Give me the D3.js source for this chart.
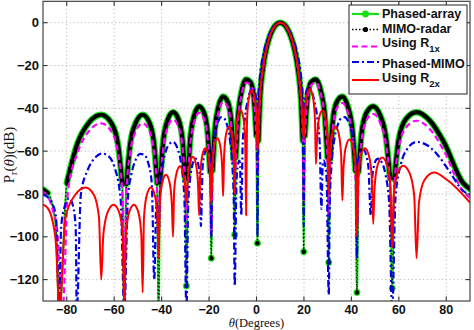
<!DOCTYPE html>
<html><head><meta charset="utf-8">
<script src="https://cdn.jsdelivr.net/npm/d3@7"></script>
<style>body{margin:0;background:#fff}svg{display:block}</style>
</head><body>
<svg id="c" width="474" height="330"></svg>
<script>
// ---------- data (θ in degrees, level in dB) ----------
const thetaTicks = [-80,-60,-40,-20,0,20,40,60,80];
const dbTicks = [-120,-100,-80,-60,-40,-20,0];

const phasedArray = [
[-90,-77.9],[-88,-79.5],[-86,-85.4],[-84.5,-96.8],[-83.1,-135],
[-79.96,-74.8],[-75.5,-56.4],[-70.6,-46.6],[-65.46,-43.0],[-61.2,-46.8],[-58.36,-56.9],[-56.58,-75.4],[-55.73,-135],
[-54.89,-75.4],[-53.27,-56.85],[-50.93,-46.8],[-47.99,-43.0],[-45.21,-46.5],[-43.21,-56.4],[-41.92,-74.8],[-41.28,-135],
[-40.65,-74.7],[-39.4,-56.0],[-37.57,-45.8],[-35.2,-41.8],[-32.9,-45.1],[-31.2,-54.7],[-30.09,-73.0],[-29.55,-123],
[-28.99,-72.7],[-27.91,-54.0],[-26.3,-43.5],[-24.19,-39.1],[-22.11,-42.1],[-20.57,-51.5],[-19.55,-69.6],[-19.05,-110],
[-18.55,-69.1],[-17.54,-50.1],[-16.05,-39.35],[-14.07,-34.5],[-12.1,-37.0],[-10.64,-46.0],[-9.68,-63.7],[-9.19,-99],
[-8.71,-62.9],[-7.74,-43.6],[-6.3,-32.2],[-4.38,-26.5],[-2.47,-27.8],[-1.04,-35.75],[-0.08,-52.7],[0.40,-103],
[0.78,-55.1],[1.35,-38.3],[2.79,-20.8],[4.22,-11.81],[5.66,-6.18],[7.10,-2.63],[8.55,-0.64],[10,0],[11.46,-0.64],[12.92,-2.63],[14.39,-6.18],[15.88,-11.81],[17.37,-20.8],[18.88,-38.3],[19.49,-55.1],[19.90,-107],
[20.4,-52.7],[21.43,-35.75],[22.97,-27.8],[25.06,-26.5],[27.19,-32.2],[28.81,-43.6],[29.91,-62.9],[30.46,-112],
[31.02,-63.7],[32.14,-46.0],[33.84,-37.0],[36.18,-34.5],[38.58,-39.35],[40.44,-50.1],[41.71,-69.1],[42.35,-126],
[42.99,-69.6],[44.32,-51.5],[46.35,-42.1],[49.19,-39.1],[52.21,-43.5],[54.63,-54.0],[56.3,-72.7],[57.18,-124],
[58.06,-73.0],[59.92,-54.7],[62.91,-45.1],[67.45,-41.8],[73.12,-45.8],[79.09,-56.0],[86.97,-74.7],[90,-77.7]
];

// MIMO-radar curve coincides with the phased-array curve in the figure
const mimoRadar = [
[-90,-77.9],[-88,-79.5],[-86,-85.4],[-84.5,-96.8],[-83.1,-135],
[-79.96,-74.8],[-75.5,-56.4],[-70.6,-46.6],[-65.46,-43.0],[-61.2,-46.8],[-58.36,-56.9],[-56.58,-75.4],[-55.73,-135],
[-54.89,-75.4],[-53.27,-56.85],[-50.93,-46.8],[-47.99,-43.0],[-45.21,-46.5],[-43.21,-56.4],[-41.92,-74.8],[-41.28,-135],
[-40.65,-74.7],[-39.4,-56.0],[-37.57,-45.8],[-35.2,-41.8],[-32.9,-45.1],[-31.2,-54.7],[-30.09,-73.0],[-29.55,-123],
[-28.99,-72.7],[-27.91,-54.0],[-26.3,-43.5],[-24.19,-39.1],[-22.11,-42.1],[-20.57,-51.5],[-19.55,-69.6],[-19.05,-110],
[-18.55,-69.1],[-17.54,-50.1],[-16.05,-39.35],[-14.07,-34.5],[-12.1,-37.0],[-10.64,-46.0],[-9.68,-63.7],[-9.19,-99],
[-8.71,-62.9],[-7.74,-43.6],[-6.3,-32.2],[-4.38,-26.5],[-2.47,-27.8],[-1.04,-35.75],[-0.08,-52.7],[0.40,-103],
[0.78,-55.1],[1.35,-38.3],[2.79,-20.8],[4.22,-11.81],[5.66,-6.18],[7.10,-2.63],[8.55,-0.64],[10,0],[11.46,-0.64],[12.92,-2.63],[14.39,-6.18],[15.88,-11.81],[17.37,-20.8],[18.88,-38.3],[19.49,-55.1],[19.90,-107],
[20.4,-52.7],[21.43,-35.75],[22.97,-27.8],[25.06,-26.5],[27.19,-32.2],[28.81,-43.6],[29.91,-62.9],[30.46,-112],
[31.02,-63.7],[32.14,-46.0],[33.84,-37.0],[36.18,-34.5],[38.58,-39.35],[40.44,-50.1],[41.71,-69.1],[42.35,-126],
[42.99,-69.6],[44.32,-51.5],[46.35,-42.1],[49.19,-39.1],[52.21,-43.5],[54.63,-54.0],[56.3,-72.7],[57.18,-124],
[58.06,-73.0],[59.92,-54.7],[62.91,-45.1],[67.45,-41.8],[73.12,-45.8],[79.09,-56.0],[86.97,-74.7],[90,-77.7]
];

const usingR1x = [
[-90,-79],[-88,-81],[-86,-87],[-84,-97],[-81.8,-135],
[-79.5,-79],[-75.5,-61],[-70.6,-50.6],[-65.46,-47],[-61.2,-50.8],[-58.36,-61],[-56.58,-79],[-55.73,-115],
[-54.89,-79.4],[-53.27,-60.9],[-50.93,-50.8],[-47.99,-47],[-45.21,-50.5],[-43.21,-60.4],[-41.92,-78.8],[-41.28,-100],
[-40.65,-78.2],[-39.4,-59.5],[-37.57,-49.3],[-35.2,-45.3],[-32.9,-48.6],[-31.2,-58.2],[-30.09,-76.5],[-29.55,-95],
[-28.99,-75.7],[-27.91,-57],[-26.3,-46.5],[-24.19,-42.1],[-22.11,-45.1],[-20.57,-54.5],[-19.55,-72.6],[-19.05,-99],
[-18.55,-71.6],[-17.54,-52.6],[-16.05,-41.85],[-14.07,-37],[-12.1,-39.5],[-10.64,-48.5],[-9.68,-66.2],[-9.19,-77],
[-8.71,-64.4],[-7.74,-45.1],[-6.3,-33.7],[-4.38,-28],[-2.47,-29.3],[-1.04,-37.25],[-0.08,-54.2],[0.40,-70],
[0.78,-55],[1.35,-38.5],[2.79,-21],[4.22,-11.9],[5.66,-6.2],[7.10,-2.63],[8.55,-0.64],[10,0],[11.46,-0.64],[12.92,-2.63],[14.39,-6.2],[15.88,-11.9],[17.37,-21],[18.88,-38.5],[19.49,-55],[19.90,-84],
[20.4,-54.2],[21.43,-37.25],[22.97,-29.3],[25.06,-28],[27.19,-33.7],[28.81,-45.1],[29.91,-64.4],[30.46,-90],
[31.02,-66.7],[32.14,-49],[33.84,-40],[36.18,-37.5],[38.58,-42.35],[40.44,-53.1],[41.71,-72.1],[42.35,-96],
[42.99,-73.1],[44.32,-55],[46.35,-45.6],[49.19,-42.6],[52.21,-47],[54.63,-57.5],[56.3,-76.2],[57.18,-102],
[58.06,-77],[59.92,-58.7],[62.91,-49.1],[67.45,-45.8],[73.12,-49.8],[79.09,-60],[86.97,-78.7],[90,-81.7]
];

const phasedMimo = [
[-90,-80.3],[-88,-81.5],[-86,-84.6],[-84.5,-91],[-83.1,-135],
[-82.39,-96],[-80.9,-86],[-78.94,-82],[-77.26,-86],[-76.21,-96],[-75.76,-135],
[-74.04,-80.2],[-71.17,-68.8],[-67.88,-62.9],[-65.03,-61.1],[-62.43,-62.3],[-60.06,-66.8],[-57.29,-82.3],[-55.73,-135],
[-54.23,-82.3],[-52.78,-71.0],[-50.93,-64.05],[-49.15,-61.3],[-47.43,-61.6],[-45.76,-65.1],[-44.14,-75.0],[-43.12,-120],
[-42.18,-84],[-41.28,-100],
[-40.65,-78.4],[-39.9,-69.5],[-38.79,-62.4],[-37.33,-57.6],[-35.2,-55.7],[-33.12,-59.3],[-31.76,-66.0],[-30.42,-81.4],[-29.55,-135],
[-28.78,-84.4],[-27.8,-71.4],[-26.51,-64.65],[-25.87,-63.5],[-25.24,-63.8],[-24.29,-67.8],[-23.98,-71.2],[-23.44,-95],
[-22.73,-67.6],[-22.11,-62.4],[-21.19,-59.3],[-20.57,-59.3],[-19.96,-61.45],[-19.36,-69.2],[-19.05,-100],
[-18.75,-67.9],[-18.14,-57.3],[-17.24,-50.5],[-16.05,-45.9],[-14.86,-44.1],[-13.67,-44.6],[-12.5,-47.5],[-11.33,-53.7],[-10.16,-67.2],[-9.58,-83.6],[-9.19,-123],
[-8.42,-73.8],[-7.84,-66.5],[-7.26,-64.4],[-6.97,-65.5],[-6.44,-90],
[-5.82,-56.6],[-4.96,-45.1],[-3.81,-36.8],[-2.66,-32.05],[-1.51,-30.3],[-0.37,-33.7],[0.21,-43.8],[0.40,-100],
[0.78,-36.0],[1.35,-26.47],[2.79,-15.34],[4.22,-8.99],[5.66,-4.78],[7.10,-2.07],[8.55,-0.51],[10,0],[11.46,-0.51],[12.92,-2.07],[14.39,-4.78],[15.88,-8.99],[17.37,-15.34],[18.88,-26.47],[19.49,-36.0],[19.90,-95],
[20.10,-43.8],[20.71,-33.7],[21.94,-30.3],[23.18,-32.05],[24.43,-36.8],[25.70,-45.1],[26.65,-56.6],[27.34,-87],
[27.94,-65.5],[28.27,-64.4],[28.92,-66.5],[29.58,-73.8],[30.46,-127],
[30.90,-83.6],[31.57,-67.2],[32.93,-53.7],[34.31,-47.5],[35.71,-44.6],[37.13,-44.1],[38.58,-45.9],[40.06,-50.5],[41.19,-57.3],[41.96,-67.9],[42.35,-110],
[42.74,-69.2],[43.52,-61.45],[44.32,-59.3],[45.12,-59.3],[46.35,-62.4],[47.19,-67.6],[48.16,-90],
[48.9,-71.2],[49.34,-67.8],[50.68,-63.8],[51.59,-63.5],[52.52,-64.65],[54.46,-71.4],[55.95,-84.4],[57.18,-135],
[58.61,-81.4],[60.89,-66.0],[63.33,-59.3],[67.45,-55.7],[72.48,-57.6],[76.81,-62.4],[81.34,-69.5],[86.97,-78.4],[90,-80.4]
];

const usingR2x = [
[-90,-85],[-88,-86.6],[-86,-92.5],[-84.5,-104],[-83.1,-135],
[-80.54,-91],[-76.46,-80.5],[-72.07,-77],[-68.52,-80.5],[-66.4,-91],[-65.46,-120],
[-64.57,-99],[-62.74,-88.5],[-60.24,-85],[-57.91,-88.5],[-56.42,-99],[-55.73,-135],
[-55.05,-99],[-53.66,-88.5],[-51.69,-85],[-49.81,-88.5],[-48.56,-99],[-47.99,-126],
[-47.43,-91],[-46.24,-80.5],[-44.54,-77],[-42.89,-80.5],[-41.79,-91],[-41.28,-110],
[-40.78,-85],[-39.71,-74.5],[-38.17,-71],[-36.67,-74.5],[-35.67,-85],[-35.2,-100],
[-34.73,-79],[-33.75,-70.5],[-32.32,-67],[-30.93,-70.5],[-29.98,-78],[-29.55,-84],
[-29.1,-74.6],[-28.18,-66.1],[-26.83,-62.6],[-25.51,-66.1],[-24.61,-76.6],[-24.19,-90],
[-23.78,-72.7],[-22.89,-62.2],[-21.6,-58.7],[-20.32,-62.2],[-19.46,-72.7],[-19.05,-85],
[-18.65,-68],[-17.8,-57.5],[-16.54,-54],[-15.3,-57.5],[-14.46,-68],[-14.07,-81],
[-13.67,-62.6],[-12.84,-52.1],[-11.62,-48.6],[-10.41,-52.1],[-9.58,-62.6],[-9.19,-80],
[-8.81,-54.8],[-7.98,-44.3],[-6.78,-40.8],[-5.58,-44.3],[-4.77,-54.8],[-4.38,-90],
[-4.0,-45.5],[-3.19,-35],[-1.99,-31.5],[-0.80,-35],[0.02,-45.5],[0.40,-60],
[0.78,-50],[1.35,-36],[2.79,-20.5],[4.22,-11.7],[5.66,-6.1],[7.10,-2.6],[8.55,-0.6],[10,0],[11.46,-0.6],[12.92,-2.6],[14.39,-6.1],[15.88,-11.7],[17.37,-20.5],[18.88,-36],[19.49,-47],[19.90,-55],
[20.3,-45],[21.17,-34.5],[22.45,-31],[23.75,-34.5],[24.64,-45],[25.06,-66],
[25.49,-55],[26.38,-44.5],[27.73,-41],[29.08,-44.5],[30.02,-55],[30.46,-80],
[30.9,-62.6],[31.86,-52.1],[33.27,-48.6],[34.71,-52.1],[35.71,-62.6],[36.18,-83],
[36.65,-68.5],[37.67,-58],[39.19,-54.5],[40.75,-58],[41.83,-68.5],[42.35,-100],
[42.87,-72.7],[43.98,-62.2],[45.67,-58.7],[47.4,-62.2],[48.61,-72.7],[49.19,-94],
[49.78,-77],[51.06,-66.5],[53.0,-63],[55.02,-66.5],[56.47,-77],[57.18,-105],
[57.88,-80.8],[59.45,-70.3],[61.88,-66.8],[64.54,-70.3],[66.48,-80.8],[67.45,-110],
[68.49,-84],[70.8,-73.5],[74.86,-70],[80.43,-73.5],[90,-84]
];

// ---------- drawing ----------
const svg = d3.select("#c");
const L = 43, R = 470, T = 1.3, B = 301;
const x = d3.scaleLinear().domain([-90, 90]).range([L, R]);
const y = d3.scaleLinear().domain([-130, 10]).range([B, T]);
const GREEN = "#16e016";

svg.append("rect").attr("width",474).attr("height",330).attr("fill","#fff");

// grid
const grid = svg.append("g").attr("stroke","#b4b4b4").attr("stroke-width",0.9).attr("stroke-dasharray","1.2,2.6");
thetaTicks.forEach(t => grid.append("line").attr("x1",x(t)).attr("x2",x(t)).attr("y1",T).attr("y2",B));
dbTicks.forEach(v => grid.append("line").attr("x1",L).attr("x2",R).attr("y1",y(v)).attr("y2",y(v)));

svg.append("clipPath").attr("id","pc").append("rect").attr("x",L).attr("y",T).attr("width",R-L).attr("height",B-T);
const plot = svg.append("g").attr("clip-path","url(#pc)");
const line = d3.line().x(d => x(d[0])).y(d => y(d[1])).curve(d3.curveMonotoneX);
// dense-marker band (markers merge into a thick band except on the near-vertical null flanks)
const band = d3.line().defined(d => d[1] > -80.5).x(d => x(d[0])).y(d => y(d[1])).curve(d3.curveMonotoneX);
const isNull = (d, i, a) => i > 0 && i < a.length - 1 && d[1] < a[i-1][1] && d[1] < a[i+1][1];

// phased-array: green line + green circle markers
plot.append("path").datum(phasedArray).attr("d",line).attr("fill","none")
  .attr("stroke",GREEN).attr("stroke-width",2.2);
plot.append("path").datum(phasedArray).attr("d",band).attr("fill","none")
  .attr("stroke",GREEN).attr("stroke-width",6.5).attr("stroke-linejoin","round").attr("stroke-linecap","round");
plot.selectAll("circle.pa").data(phasedArray.filter(isNull)).join("circle").attr("class","pa")
  .attr("cx",d => x(d[0])).attr("cy",d => y(d[1])).attr("r",3.4).attr("fill",GREEN);
// MIMO-radar: black dotted line + dot markers
plot.append("path").datum(mimoRadar).attr("d",band).attr("fill","none")
  .attr("stroke","#000").attr("stroke-width",4.2).attr("stroke-linejoin","round").attr("stroke-linecap","round");
plot.append("path").datum(mimoRadar).attr("d",line).attr("fill","none")
  .attr("stroke","#000").attr("stroke-width",1.3).attr("stroke-dasharray","1.2,2.4");
plot.selectAll("circle.mr").data(mimoRadar.filter(isNull)).join("circle").attr("class","mr")
  .attr("cx",d => x(d[0])).attr("cy",d => y(d[1])).attr("r",2.2).attr("fill","#000");

plot.append("path").datum(usingR1x).attr("d",line).attr("fill","none")
  .attr("stroke","#ff00ff").attr("stroke-width",2.2).attr("stroke-dasharray","6,3.5");
plot.append("path").datum(phasedMimo).attr("d",line).attr("fill","none")
  .attr("stroke","#0000e0").attr("stroke-width",2.2).attr("stroke-dasharray","7,3,2,3");
plot.append("path").datum(usingR2x).attr("d",line).attr("fill","none")
  .attr("stroke","#ff0000").attr("stroke-width",2);

// axes box + ticks
const ax = svg.append("g").attr("stroke","#333").attr("stroke-width",1.1);
ax.append("rect").attr("x",L).attr("y",T).attr("width",R-L).attr("height",B-T).attr("fill","none");
thetaTicks.forEach(t => {
  ax.append("line").attr("x1",x(t)).attr("x2",x(t)).attr("y1",B).attr("y2",B-4.5);
  ax.append("line").attr("x1",x(t)).attr("x2",x(t)).attr("y1",T).attr("y2",T+4.5);
});
dbTicks.forEach(v => {
  ax.append("line").attr("x1",L).attr("x2",L+4.5).attr("y1",y(v)).attr("y2",y(v));
  ax.append("line").attr("x1",R).attr("x2",R-4.5).attr("y1",y(v)).attr("y2",y(v));
});

const fnt = "'Liberation Sans', Arial, Helvetica, sans-serif";
const lab = svg.append("g").attr("font-family",fnt).attr("font-weight","bold").attr("fill","#111");
thetaTicks.forEach(t => lab.append("text").attr("font-size",12.5).attr("x",x(t)).attr("y",313.5).attr("text-anchor","middle").text(t < 0 ? "\u2212" + (-t) : t));
dbTicks.forEach(v => lab.append("text").attr("font-size",13).attr("x",39).attr("y",y(v)).attr("dy","0.36em").attr("text-anchor","end").text(v < 0 ? "\u2212" + (-v) : v));

// axis titles
const serif = "'Liberation Serif', 'Times New Roman', serif";
const xt = svg.append("text").attr("x",x(0)).attr("y",327.2).attr("text-anchor","middle")
  .attr("font-family",serif).attr("font-size",12.5).attr("fill","#111");
xt.append("tspan").attr("font-style","italic").text("\u03b8");
xt.append("tspan").text("(Degrees)");

const yt = svg.append("text").attr("transform","translate(14,155) rotate(-90)").attr("text-anchor","middle")
  .attr("font-family",serif).attr("font-size",15).attr("fill","#111");
yt.append("tspan").text("P");
yt.append("tspan").attr("font-size",10).attr("dy",3).text("r");
yt.append("tspan").attr("dy",-3).text("(");
yt.append("tspan").attr("font-style","italic").text("\u03b8");
yt.append("tspan").text(")(dB)");

// legend
const lg = svg.append("g");
lg.append("rect").attr("x",349).attr("y",5).attr("width",118).attr("height",89)
  .attr("fill","#fff").attr("stroke","#222").attr("stroke-width",1);
const lx1 = 352, lx2 = 379, tx = 382;
const items = [
  {name:"Phased-array", ly:14, ty:18.3},
  {name:"MIMO-radar", ly:29.5, ty:33},
  {name:"Using R", sub:"1x", ly:46.5, ty:47},
  {name:"Phased-MIMO", ly:62, ty:67.5},
  {name:"Using R", sub:"2x", ly:80, ty:82}
];
lg.append("line").attr("x1",lx1).attr("x2",lx2).attr("y1",items[0].ly).attr("y2",items[0].ly).attr("stroke",GREEN).attr("stroke-width",2.2);
lg.append("circle").attr("cx",(lx1+lx2)/2).attr("cy",items[0].ly).attr("r",3.4).attr("fill",GREEN);
lg.append("line").attr("x1",lx1).attr("x2",lx2).attr("y1",items[1].ly).attr("y2",items[1].ly).attr("stroke","#000").attr("stroke-width",1.5).attr("stroke-dasharray","1.5,2");
lg.append("circle").attr("cx",(lx1+lx2)/2).attr("cy",items[1].ly).attr("r",2.6).attr("fill","#000");
lg.append("line").attr("x1",lx1).attr("x2",lx2).attr("y1",items[2].ly).attr("y2",items[2].ly).attr("stroke","#ff00ff").attr("stroke-width",2.2).attr("stroke-dasharray","6,3.5");
lg.append("line").attr("x1",lx1).attr("x2",lx2).attr("y1",items[3].ly).attr("y2",items[3].ly).attr("stroke","#0000e0").attr("stroke-width",2.2).attr("stroke-dasharray","7,3,2,3");
lg.append("line").attr("x1",lx1).attr("x2",lx2).attr("y1",items[4].ly).attr("y2",items[4].ly).attr("stroke","#ff0000").attr("stroke-width",2);
items.forEach(it => {
  const t = lg.append("text").attr("x",tx).attr("y",it.ty).attr("font-family",fnt).attr("font-weight","bold").attr("font-size",12.5).attr("fill","#111");
  t.append("tspan").text(it.name);
  if (it.sub) t.append("tspan").attr("font-size",9.5).attr("dy",5).text(it.sub);
});
</script>
</body></html>
